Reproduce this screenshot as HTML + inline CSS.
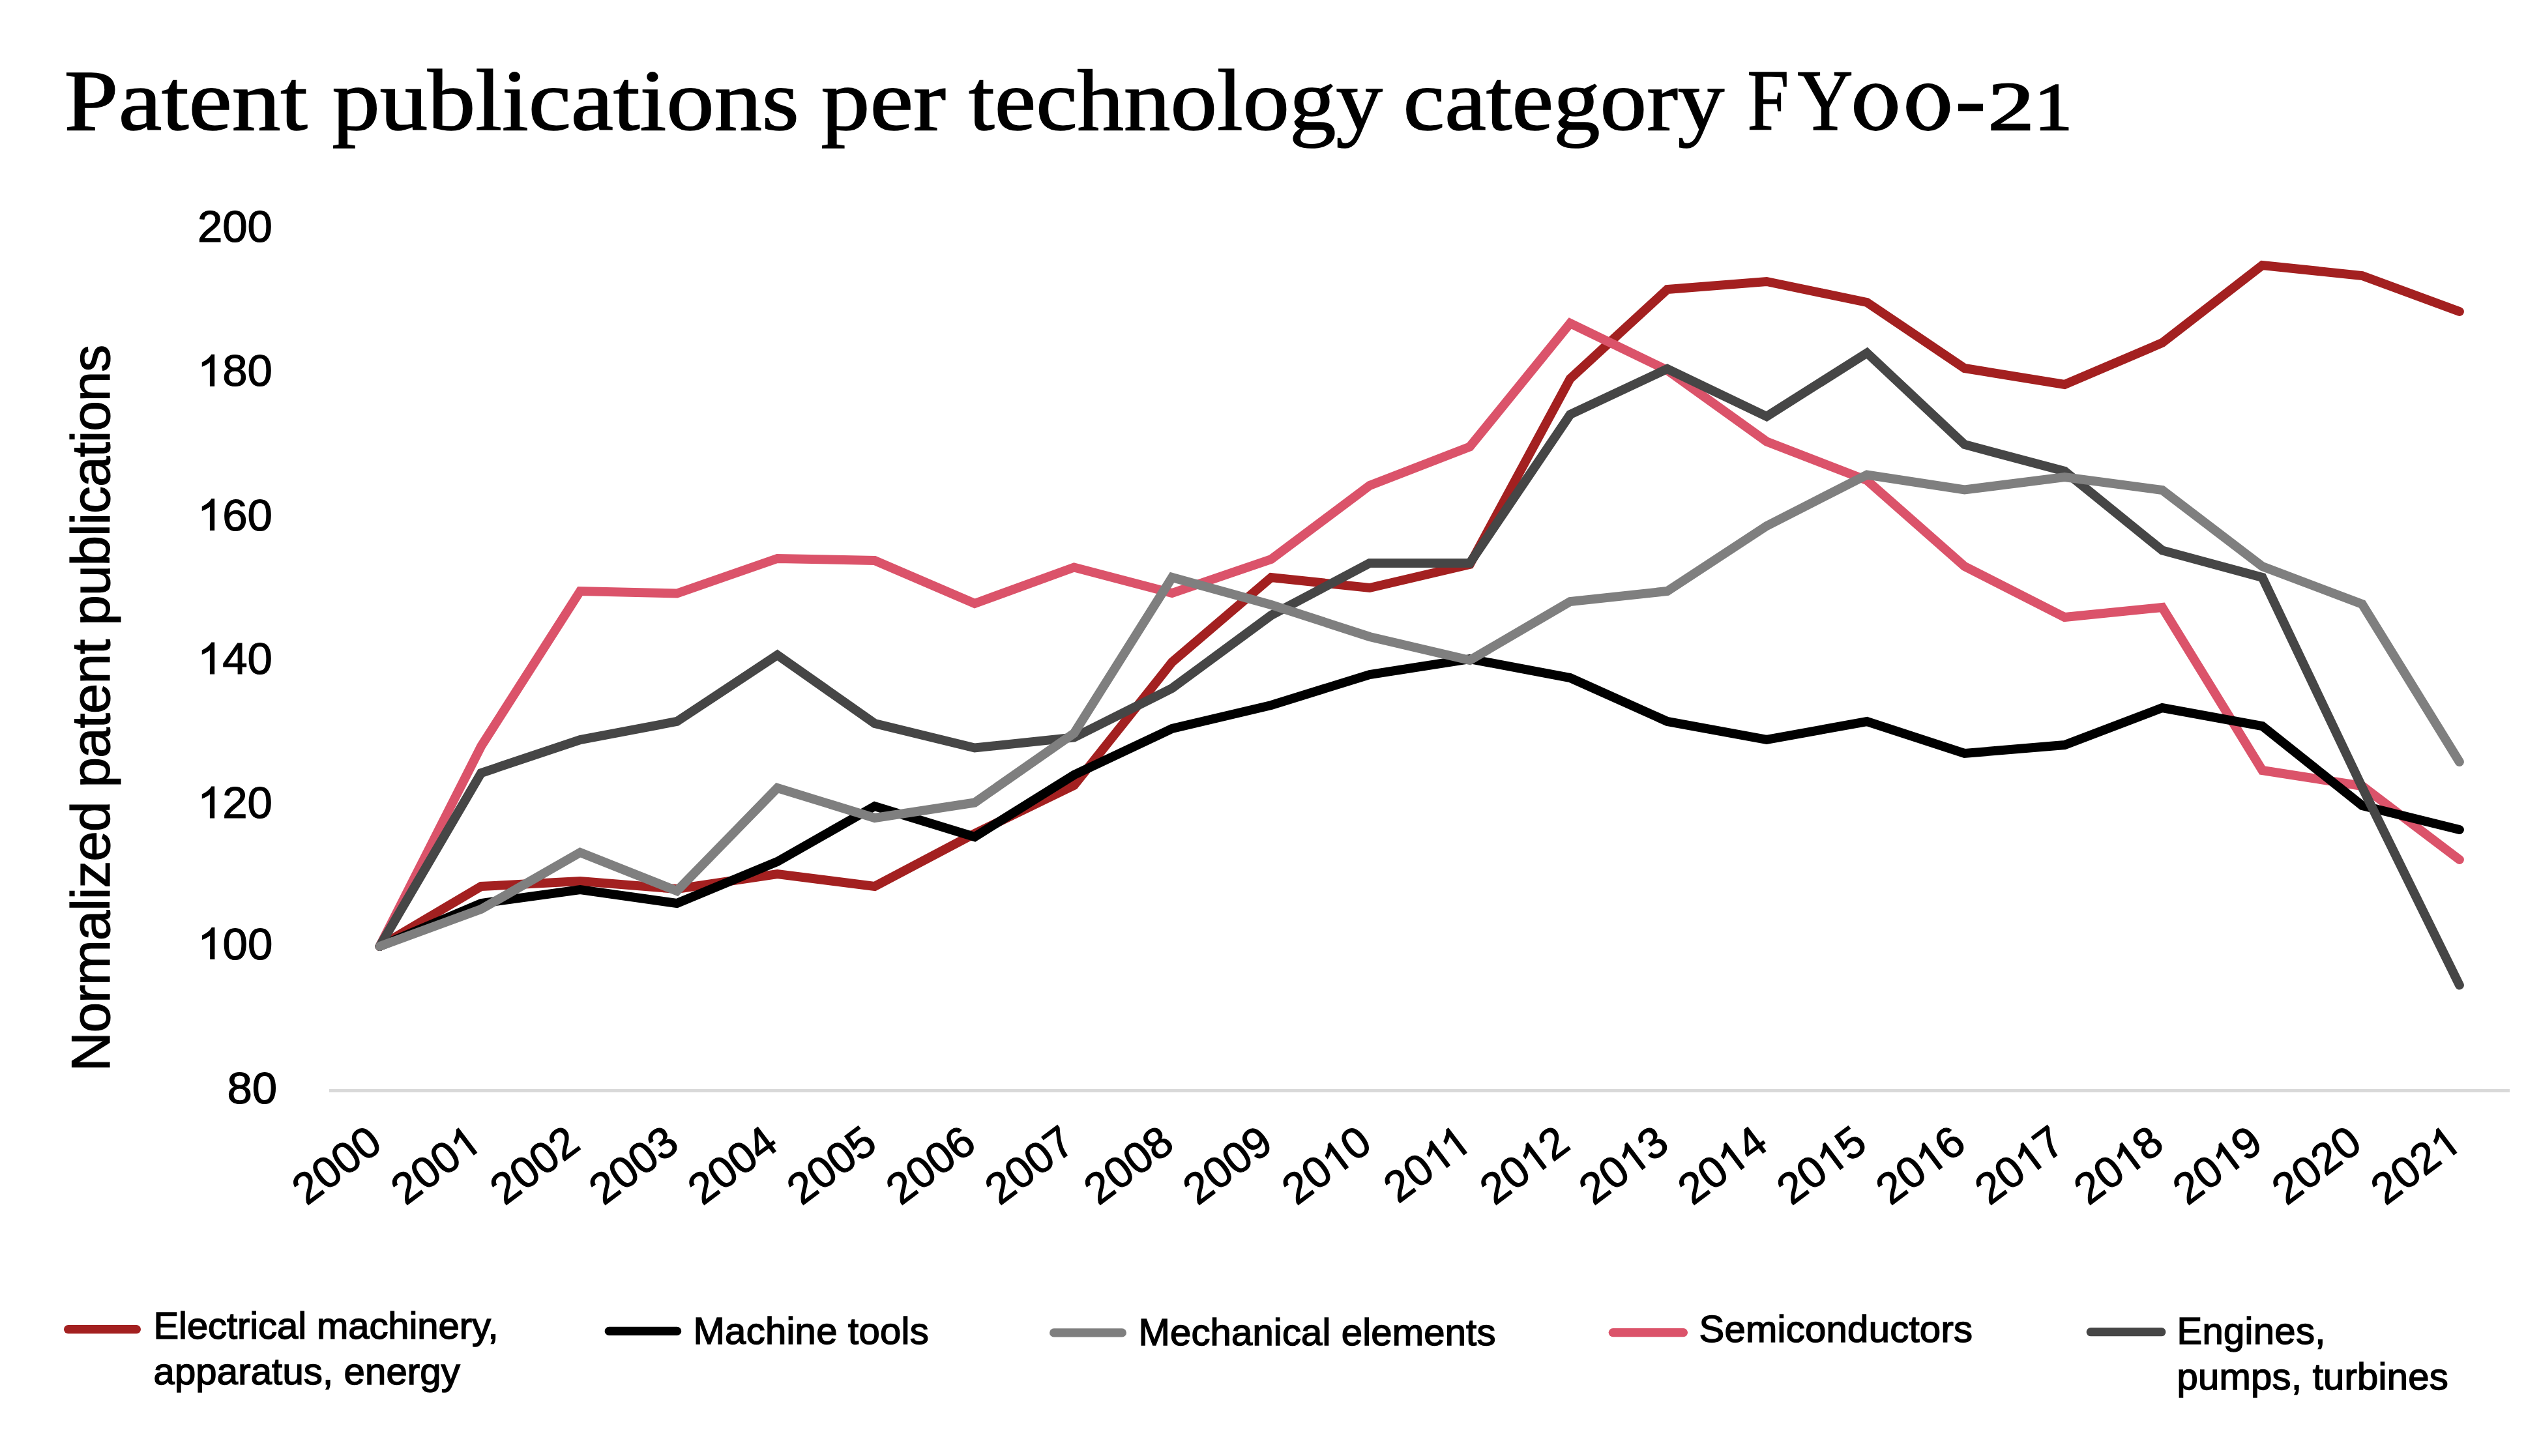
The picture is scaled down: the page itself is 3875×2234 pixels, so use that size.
<!DOCTYPE html>
<html><head><meta charset="utf-8"><title>Patent publications per technology category FY00-21</title>
<style>html,body{margin:0;padding:0;background:#fff;}svg{display:block;}text{font-family:"Liberation Sans",sans-serif;fill:#000;}.ser{font-family:"Liberation Serif",serif;}</style></head><body>
<svg width="3875" height="2234" viewBox="0 0 3875 2234">
<rect x="0" y="0" width="3875" height="2234" fill="#ffffff"/>
<text class="ser" x="98.6" y="198.6" font-size="133" textLength="373.2" lengthAdjust="spacingAndGlyphs" stroke="#000" stroke-width="1.6">Patent</text>
<text class="ser" x="509.4" y="198.6" font-size="133" textLength="716.5" lengthAdjust="spacingAndGlyphs" stroke="#000" stroke-width="1.6">publications</text>
<text class="ser" x="1259.6" y="198.6" font-size="133" textLength="191.4" lengthAdjust="spacingAndGlyphs" stroke="#000" stroke-width="1.6">per</text>
<text class="ser" x="1486.1" y="198.6" font-size="133" textLength="634.8" lengthAdjust="spacingAndGlyphs" stroke="#000" stroke-width="1.6">technology</text>
<text class="ser" x="2152.6" y="198.6" font-size="133" textLength="492.8" lengthAdjust="spacingAndGlyphs" stroke="#000" stroke-width="1.6">category</text>
<text class="ser" x="2680.4" y="198.6" font-size="133" textLength="63.7" lengthAdjust="spacingAndGlyphs" stroke="#000" stroke-width="1.6">F</text>
<text class="ser" x="2757.4" y="198.6" font-size="133" textLength="85.0" lengthAdjust="spacingAndGlyphs" stroke="#000" stroke-width="1.6">Y</text>
<path fill-rule="evenodd" d="M2843.9 164.4a33.6 36.5 0 1 0 67.2 0a33.6 36.5 0 1 0 -67.2 0Z M2859.5 164.4a18 30.2 0 1 0 36 0a18 30.2 0 1 0 -36 0Z"/>
<path fill-rule="evenodd" d="M2924.2 164.4a33.6 36.5 0 1 0 67.2 0a33.6 36.5 0 1 0 -67.2 0Z M2939.8 164.4a18 30.2 0 1 0 36 0a18 30.2 0 1 0 -36 0Z"/>
<rect x="3004" y="159.2" width="38" height="11.1"/>
<text class="ser" x="3049.7" y="198.6" font-size="105" textLength="70.7" lengthAdjust="spacingAndGlyphs" stroke="#000" stroke-width="2.5">2</text>
<text class="ser" x="3121" y="198.6" font-size="103" textLength="58" lengthAdjust="spacingAndGlyphs" stroke="#000" stroke-width="2.5">1</text>
<g transform="translate(418.0,370.6) scale(1,0.99)"><text x="-115.13" y="0" font-size="69" stroke="#000" stroke-width="1.2">200</text></g>
<g transform="translate(418.0,592.2) scale(1,0.99)"><path transform="translate(-115.13,0) scale(0.03369,-0.03282)" d="M763 0H583V1147Q518 1085 412.5 1023T223 930V1104Q374 1175 487 1276T647 1472H763Z" stroke="#000" stroke-width="35.6"/><text x="-76.76" y="0" font-size="69" stroke="#000" stroke-width="1.2">80</text></g>
<g transform="translate(418.0,813.5) scale(1,0.99)"><path transform="translate(-115.13,0) scale(0.03369,-0.03282)" d="M763 0H583V1147Q518 1085 412.5 1023T223 930V1104Q374 1175 487 1276T647 1472H763Z" stroke="#000" stroke-width="35.6"/><text x="-76.76" y="0" font-size="69" stroke="#000" stroke-width="1.2">60</text></g>
<g transform="translate(418.0,1033.8) scale(1,0.99)"><path transform="translate(-115.13,0) scale(0.03369,-0.03282)" d="M763 0H583V1147Q518 1085 412.5 1023T223 930V1104Q374 1175 487 1276T647 1472H763Z" stroke="#000" stroke-width="35.6"/><text x="-76.76" y="0" font-size="69" stroke="#000" stroke-width="1.2">40</text></g>
<g transform="translate(418.0,1255.0) scale(1,0.99)"><path transform="translate(-115.13,0) scale(0.03369,-0.03282)" d="M763 0H583V1147Q518 1085 412.5 1023T223 930V1104Q374 1175 487 1276T647 1472H763Z" stroke="#000" stroke-width="35.6"/><text x="-76.76" y="0" font-size="69" stroke="#000" stroke-width="1.2">20</text></g>
<g transform="translate(418.3,1471.5) scale(1,0.99)"><path transform="translate(-115.13,0) scale(0.03369,-0.03282)" d="M763 0H583V1147Q518 1085 412.5 1023T223 930V1104Q374 1175 487 1276T647 1472H763Z" stroke="#000" stroke-width="35.6"/><text x="-76.76" y="0" font-size="69" stroke="#000" stroke-width="1.2">00</text></g>
<g transform="translate(425.2,1692.6) scale(1,0.99)"><text x="-76.76" y="0" font-size="69" stroke="#000" stroke-width="1.2">80</text></g>
<rect x="505" y="1671" width="3345" height="5" fill="#d9d9d9"/>
<polyline points="582.5,1452.0 738.1,1360.0 890.0,1352.0 1038.4,1364.0 1192.5,1341.0 1341.8,1360.0 1495.2,1279.0 1647.7,1205.0 1798.0,1016.0 1950.1,886.0 2101.1,902.0 2254.8,866.0 2408.7,581.0 2557.7,444.0 2710.1,432.0 2864.0,464.0 3013.7,565.0 3167.2,590.0 3317.0,526.0 3470.5,407.0 3623.7,423.0 3772.9,478.0" fill="none" stroke="#a32020" stroke-width="14" stroke-linejoin="miter" stroke-miterlimit="8" stroke-linecap="round"/>
<polyline points="582.5,1452.0 738.1,1145.0 890.0,907.0 1038.4,910.5 1192.5,857.0 1341.8,860.0 1495.2,926.0 1647.7,870.5 1798.0,910.0 1950.1,858.0 2101.1,745.0 2254.8,685.5 2408.7,496.0 2557.7,568.0 2710.1,677.5 2864.0,737.0 3013.7,869.0 3167.2,947.0 3317.0,932.0 3470.5,1182.0 3623.7,1206.0 3772.9,1319.0" fill="none" stroke="#db536a" stroke-width="14" stroke-linejoin="miter" stroke-miterlimit="8" stroke-linecap="round"/>
<polyline points="582.5,1452.0 738.1,1386.0 890.0,1365.0 1038.4,1386.0 1192.5,1322.0 1341.8,1237.0 1495.2,1284.0 1647.7,1189.0 1798.0,1118.0 1950.1,1082.0 2101.1,1035.0 2254.8,1011.0 2408.7,1040.0 2557.7,1107.0 2710.1,1135.0 2864.0,1107.0 3013.7,1156.0 3167.2,1143.0 3317.0,1086.0 3470.5,1114.0 3623.7,1236.0 3772.9,1273.0" fill="none" stroke="#000000" stroke-width="14" stroke-linejoin="miter" stroke-miterlimit="8" stroke-linecap="round"/>
<polyline points="582.5,1452.0 738.1,1186.0 890.0,1135.0 1038.4,1107.0 1192.5,1005.0 1341.8,1110.0 1495.2,1147.5 1647.7,1131.5 1798.0,1056.0 1950.1,944.0 2101.1,864.0 2254.8,864.0 2408.7,636.0 2557.7,566.0 2710.1,639.0 2864.0,541.5 3013.7,682.0 3167.2,723.0 3317.0,844.5 3470.5,886.0 3623.7,1208.0 3772.9,1511.5" fill="none" stroke="#464646" stroke-width="14" stroke-linejoin="miter" stroke-miterlimit="8" stroke-linecap="round"/>
<polyline points="582.5,1452.0 738.1,1395.0 890.0,1308.0 1038.4,1367.0 1192.5,1209.0 1341.8,1255.0 1495.2,1231.5 1647.7,1125.0 1798.0,886.0 1950.1,928.0 2101.1,977.0 2254.8,1013.0 2408.7,923.0 2557.7,907.0 2710.1,807.0 2864.0,728.5 3013.7,751.5 3167.2,732.0 3317.0,752.0 3470.5,869.0 3623.7,927.0 3772.9,1169.0" fill="none" stroke="#7f7f7f" stroke-width="14" stroke-linejoin="miter" stroke-miterlimit="8" stroke-linecap="round"/>
<g transform="translate(589.5,1761) rotate(-37)"><text x="-149.06" y="0" font-size="67" stroke="#000" stroke-width="1.2">2000</text></g>
<g transform="translate(741.4,1761) rotate(-37)"><text x="-149.06" y="0" font-size="67" stroke="#000" stroke-width="1.2">200</text><path transform="translate(-37.27,0) scale(0.03271,-0.03186)" d="M763 0H583V1147Q518 1085 412.5 1023T223 930V1104Q374 1175 487 1276T647 1472H763Z" stroke="#000" stroke-width="36.7"/></g>
<g transform="translate(893.2,1761) rotate(-37)"><text x="-149.06" y="0" font-size="67" stroke="#000" stroke-width="1.2">2002</text></g>
<g transform="translate(1045.1,1761) rotate(-37)"><text x="-149.06" y="0" font-size="67" stroke="#000" stroke-width="1.2">2003</text></g>
<g transform="translate(1196.9,1761) rotate(-37)"><text x="-149.06" y="0" font-size="67" stroke="#000" stroke-width="1.2">2004</text></g>
<g transform="translate(1348.8,1761) rotate(-37)"><text x="-149.06" y="0" font-size="67" stroke="#000" stroke-width="1.2">2005</text></g>
<g transform="translate(1500.7,1761) rotate(-37)"><text x="-149.06" y="0" font-size="67" stroke="#000" stroke-width="1.2">2006</text></g>
<g transform="translate(1652.5,1761) rotate(-37)"><text x="-149.06" y="0" font-size="67" stroke="#000" stroke-width="1.2">2007</text></g>
<g transform="translate(1804.4,1761) rotate(-37)"><text x="-149.06" y="0" font-size="67" stroke="#000" stroke-width="1.2">2008</text></g>
<g transform="translate(1956.2,1761) rotate(-37)"><text x="-149.06" y="0" font-size="67" stroke="#000" stroke-width="1.2">2009</text></g>
<g transform="translate(2108.1,1761) rotate(-37)"><text x="-149.06" y="0" font-size="67" stroke="#000" stroke-width="1.2">20</text><path transform="translate(-74.53,0) scale(0.03271,-0.03186)" d="M763 0H583V1147Q518 1085 412.5 1023T223 930V1104Q374 1175 487 1276T647 1472H763Z" stroke="#000" stroke-width="36.7"/><text x="-37.27" y="0" font-size="67" stroke="#000" stroke-width="1.2">0</text></g>
<g transform="translate(2260.0,1761) rotate(-37)"><text x="-144.10" y="0" font-size="67" stroke="#000" stroke-width="1.2">20</text><path transform="translate(-69.57,0) scale(0.03271,-0.03186)" d="M763 0H583V1147Q518 1085 412.5 1023T223 930V1104Q374 1175 487 1276T647 1472H763Z" stroke="#000" stroke-width="36.7"/><path transform="translate(-37.27,0) scale(0.03271,-0.03186)" d="M763 0H583V1147Q518 1085 412.5 1023T223 930V1104Q374 1175 487 1276T647 1472H763Z" stroke="#000" stroke-width="36.7"/></g>
<g transform="translate(2411.8,1761) rotate(-37)"><text x="-149.06" y="0" font-size="67" stroke="#000" stroke-width="1.2">20</text><path transform="translate(-74.53,0) scale(0.03271,-0.03186)" d="M763 0H583V1147Q518 1085 412.5 1023T223 930V1104Q374 1175 487 1276T647 1472H763Z" stroke="#000" stroke-width="36.7"/><text x="-37.27" y="0" font-size="67" stroke="#000" stroke-width="1.2">2</text></g>
<g transform="translate(2563.7,1761) rotate(-37)"><text x="-149.06" y="0" font-size="67" stroke="#000" stroke-width="1.2">20</text><path transform="translate(-74.53,0) scale(0.03271,-0.03186)" d="M763 0H583V1147Q518 1085 412.5 1023T223 930V1104Q374 1175 487 1276T647 1472H763Z" stroke="#000" stroke-width="36.7"/><text x="-37.27" y="0" font-size="67" stroke="#000" stroke-width="1.2">3</text></g>
<g transform="translate(2715.5,1761) rotate(-37)"><text x="-149.06" y="0" font-size="67" stroke="#000" stroke-width="1.2">20</text><path transform="translate(-74.53,0) scale(0.03271,-0.03186)" d="M763 0H583V1147Q518 1085 412.5 1023T223 930V1104Q374 1175 487 1276T647 1472H763Z" stroke="#000" stroke-width="36.7"/><text x="-37.27" y="0" font-size="67" stroke="#000" stroke-width="1.2">4</text></g>
<g transform="translate(2867.4,1761) rotate(-37)"><text x="-149.06" y="0" font-size="67" stroke="#000" stroke-width="1.2">20</text><path transform="translate(-74.53,0) scale(0.03271,-0.03186)" d="M763 0H583V1147Q518 1085 412.5 1023T223 930V1104Q374 1175 487 1276T647 1472H763Z" stroke="#000" stroke-width="36.7"/><text x="-37.27" y="0" font-size="67" stroke="#000" stroke-width="1.2">5</text></g>
<g transform="translate(3019.3,1761) rotate(-37)"><text x="-149.06" y="0" font-size="67" stroke="#000" stroke-width="1.2">20</text><path transform="translate(-74.53,0) scale(0.03271,-0.03186)" d="M763 0H583V1147Q518 1085 412.5 1023T223 930V1104Q374 1175 487 1276T647 1472H763Z" stroke="#000" stroke-width="36.7"/><text x="-37.27" y="0" font-size="67" stroke="#000" stroke-width="1.2">6</text></g>
<g transform="translate(3171.1,1761) rotate(-37)"><text x="-149.06" y="0" font-size="67" stroke="#000" stroke-width="1.2">20</text><path transform="translate(-74.53,0) scale(0.03271,-0.03186)" d="M763 0H583V1147Q518 1085 412.5 1023T223 930V1104Q374 1175 487 1276T647 1472H763Z" stroke="#000" stroke-width="36.7"/><text x="-37.27" y="0" font-size="67" stroke="#000" stroke-width="1.2">7</text></g>
<g transform="translate(3323.0,1761) rotate(-37)"><text x="-149.06" y="0" font-size="67" stroke="#000" stroke-width="1.2">20</text><path transform="translate(-74.53,0) scale(0.03271,-0.03186)" d="M763 0H583V1147Q518 1085 412.5 1023T223 930V1104Q374 1175 487 1276T647 1472H763Z" stroke="#000" stroke-width="36.7"/><text x="-37.27" y="0" font-size="67" stroke="#000" stroke-width="1.2">8</text></g>
<g transform="translate(3474.8,1761) rotate(-37)"><text x="-149.06" y="0" font-size="67" stroke="#000" stroke-width="1.2">20</text><path transform="translate(-74.53,0) scale(0.03271,-0.03186)" d="M763 0H583V1147Q518 1085 412.5 1023T223 930V1104Q374 1175 487 1276T647 1472H763Z" stroke="#000" stroke-width="36.7"/><text x="-37.27" y="0" font-size="67" stroke="#000" stroke-width="1.2">9</text></g>
<g transform="translate(3626.7,1761) rotate(-37)"><text x="-149.06" y="0" font-size="67" stroke="#000" stroke-width="1.2">2020</text></g>
<g transform="translate(3778.6,1761) rotate(-37)"><text x="-149.06" y="0" font-size="67" stroke="#000" stroke-width="1.2">202</text><path transform="translate(-37.27,0) scale(0.03271,-0.03186)" d="M763 0H583V1147Q518 1085 412.5 1023T223 930V1104Q374 1175 487 1276T647 1472H763Z" stroke="#000" stroke-width="36.7"/></g>
<text transform="translate(168,1644) rotate(-90)" x="0" y="0" font-size="84" letter-spacing="-1.15" stroke="#000" stroke-width="1.2">Normalized patent publications</text>
<line x1="104.6" y1="2039.6" x2="209.4" y2="2039.6" stroke="#a32020" stroke-width="13.3" stroke-linecap="round"/>
<text x="235.5" y="2054.3" font-size="58" letter-spacing="-0.08" stroke="#000" stroke-width="1.5">Electrical machinery,</text>
<text x="235.5" y="2123.5" font-size="58" letter-spacing="0.17" stroke="#000" stroke-width="1.5">apparatus, energy</text>
<line x1="934.3" y1="2042.4" x2="1038.6" y2="2042.4" stroke="#000000" stroke-width="13.3" stroke-linecap="round"/>
<text x="1063.5" y="2062.3" font-size="58" letter-spacing="0.28" stroke="#000" stroke-width="1.5">Machine tools</text>
<line x1="1616.7" y1="2044.9" x2="1721.3" y2="2044.9" stroke="#7f7f7f" stroke-width="13.3" stroke-linecap="round"/>
<text x="1746.5" y="2063.9" font-size="58" letter-spacing="0.17" stroke="#000" stroke-width="1.5">Mechanical elements</text>
<line x1="2474.3" y1="2044.6" x2="2582.4" y2="2044.6" stroke="#db536a" stroke-width="13.3" stroke-linecap="round"/>
<text x="2606.5" y="2059" font-size="58" letter-spacing="0.28" stroke="#000" stroke-width="1.5">Semiconductors</text>
<line x1="3207.3" y1="2043.7" x2="3315.8" y2="2043.7" stroke="#464646" stroke-width="13.3" stroke-linecap="round"/>
<text x="3339.5" y="2062.3" font-size="58" letter-spacing="0.3" stroke="#000" stroke-width="1.5">Engines,</text>
<text x="3339.5" y="2131.6" font-size="58" letter-spacing="0.26" stroke="#000" stroke-width="1.5">pumps, turbines</text>
</svg></body></html>
